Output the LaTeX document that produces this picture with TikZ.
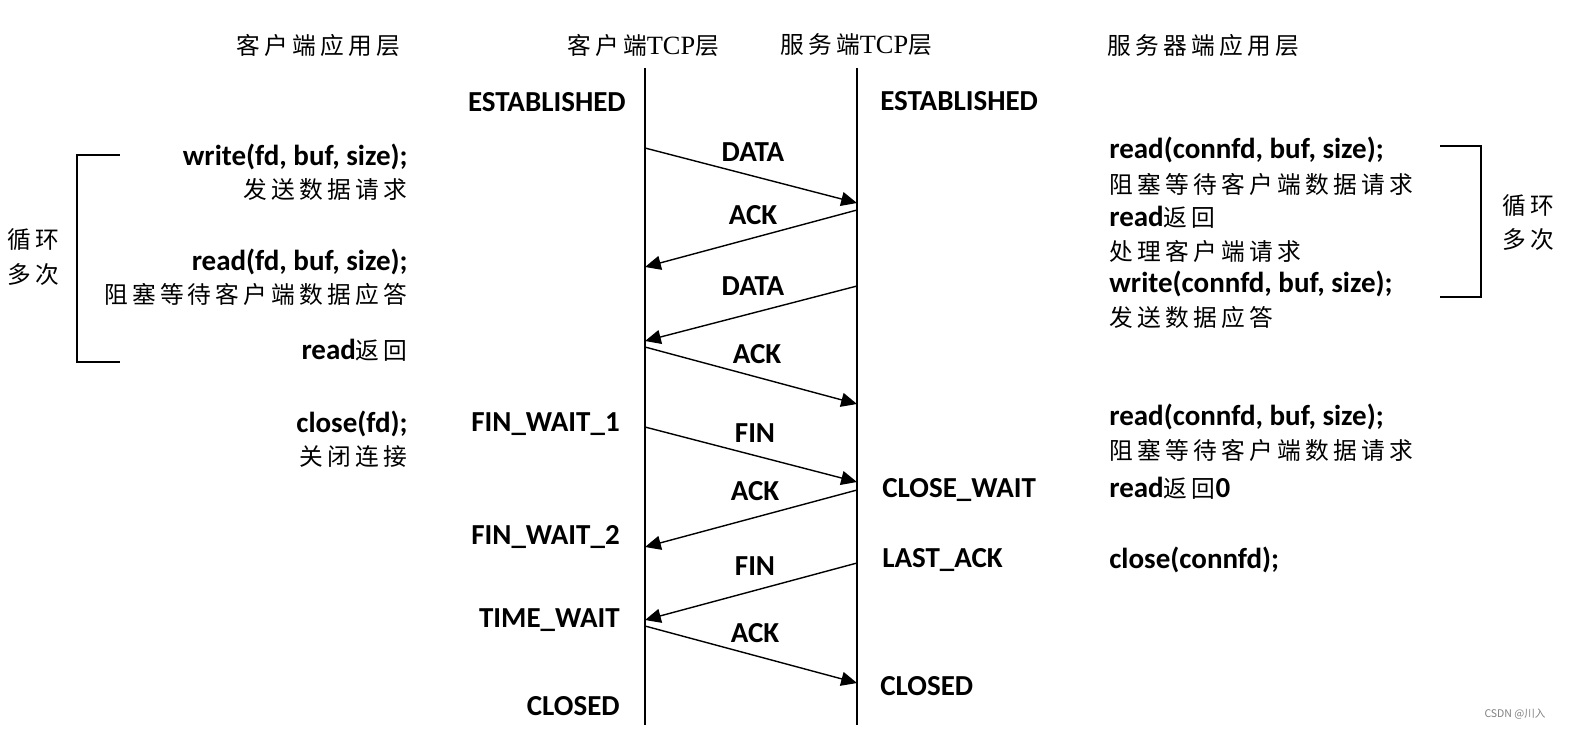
\documentclass[tikz,border=0pt]{standalone}
\usepackage{fontspec}
\setmainfont{Carlito}
\newfontfamily\cjk{Noto Sans CJK SC}
\newfontfamily\serifl{Liberation Serif}
\usetikzlibrary{arrows.meta}
\tikzset{
  lat/.style={font=\bfseries\fontsize{16.5}{18}\selectfont, inner sep=0pt},
  zh/.style={font=\cjk\fontsize{13.5}{16}\selectfont, inner sep=0pt},
  msg/.style={thick, -{Triangle[length=9pt,width=8pt]}},
  life/.style={thick},
  brk/.style={thick}
}
\newcommand{\zhsp}[1]{{\addfontfeature{LetterSpace=18}#1}}
\begin{document}
\begin{tikzpicture}[x=0.02cm,y=-0.02cm]
\useasboundingbox (0,0) rectangle (1572,731);
% headers
\node[zh] (h1) at (318,45) {\zhsp{客户端应用层}};
\node[zh] (h2) at (643,45) {\zhsp{客户端}{\serifl\fontsize{15}{16}\selectfont TCP}\zhsp{层}};
\node[zh] (h3) at (856,45) {\zhsp{服务端}{\serifl\fontsize{15}{16}\selectfont TCP}\zhsp{层}};
\node[zh] (h4) at (1203,45) {\zhsp{服务器端应用层}};
% lifelines
\coordinate (c0) at (645,68); \coordinate (c1) at (645,725);
\coordinate (s0) at (857,68); \coordinate (s1) at (857,725);
\draw[life] (c0) -- (c1);
\draw[life] (s0) -- (s1);
% messages
\foreach \i/\ya/\yb/\dir/\txt/\lx/\ly in {
  1/148/203/r/DATA/753/152, 2/210/267/l/ACK/753/215,
  3/286/341/l/DATA/753/286, 4/347/404/r/ACK/757/354,
  5/427/482/r/FIN/755/433, 6/490/547/l/ACK/755/491,
  7/563/620/l/FIN/755/566, 8/626/683/r/ACK/755/633}{
  \if r\dir
    \coordinate (m\i a) at (645,\ya); \coordinate (m\i b) at (857,\yb);
  \else
    \coordinate (m\i a) at (857,\ya); \coordinate (m\i b) at (645,\yb);
  \fi
  \draw[msg] (m\i a) -- (m\i b);
  \node[lat] (ml\i) at (\lx,\ly) {\txt};
}
% client states
\node[lat, anchor=east] (cs1) at (626,102) {ESTABLISHED};
\node[lat, anchor=east] (cs2) at (620,424) {FIN\_WAIT\_1};
\node[lat, anchor=east] (cs3) at (620,537) {FIN\_WAIT\_2};
\node[lat, anchor=east] (cs4) at (620,620) {TIME\_WAIT};
\node[lat, anchor=east] (cs5) at (620,706) {CLOSED};
% server states
\node[lat, anchor=west] (ss1) at (880,101) {ESTABLISHED};
\node[lat, anchor=west] (ss2) at (882,490) {CLOSE\_WAIT};
\node[lat, anchor=west] (ss3) at (882,560) {LAST\_ACK};
\node[lat, anchor=west] (ss4) at (880,686) {CLOSED};
% client app
\node[lat, anchor=east] (ca1) at (408,157) {write(fd, buf, size);};
\node[zh, anchor=east] (ca2) at (408,189) {\zhsp{发送数据请求}};
\node[lat, anchor=east] (ca3) at (408,262) {read(fd, buf, size);};
\node[zh, anchor=east] (ca4) at (408,294) {\zhsp{阻塞等待客户端数据应答}};
\node[lat, anchor=east] (ca5) at (408,350) {read\normalfont\cjk\fontsize{13.5}{16}\selectfont\zhsp{返回}};
\node[lat, anchor=east] (ca6) at (408,424) {close(fd);};
\node[zh, anchor=east] (ca7) at (408,456) {\zhsp{关闭连接}};
\coordinate (lb0) at (120,155); \coordinate (lb1) at (77,155);
\coordinate (lb2) at (77,362); \coordinate (lb3) at (120,362);
\draw[brk] (lb0) -- (lb1) -- (lb2) -- (lb3);
\node[zh] (lp1) at (33,240) {\zhsp{循环}};
\node[zh] (lp2) at (33,275) {\zhsp{多次}};
% server app
\node[lat, anchor=west] (sa1) at (1109,150) {read(connfd, buf, size);};
\node[zh, anchor=west] (sa2) at (1109,184) {\zhsp{阻塞等待客户端数据请求}};
\node[lat, anchor=west] (sa3) at (1109,217) {read\normalfont\cjk\fontsize{13.5}{16}\selectfont\zhsp{返回}};
\node[zh, anchor=west] (sa4) at (1109,251) {\zhsp{处理客户端请求}};
\node[lat, anchor=west] (sa5) at (1109,284) {write(connfd, buf, size);};
\node[zh, anchor=west] (sa6) at (1109,317) {\zhsp{发送数据应答}};
\node[lat, anchor=west] (sa7) at (1109,417) {read(connfd, buf, size);};
\node[zh, anchor=west] (sa8) at (1109,450) {\zhsp{阻塞等待客户端数据请求}};
\node[lat, anchor=west] (sa9) at (1109,488) {read{\normalfont\cjk\fontsize{13.5}{16}\selectfont\zhsp{返回}}0};
\node[lat, anchor=west] (sa10) at (1109,560) {close(connfd);};
\coordinate (rb0) at (1440,146); \coordinate (rb1) at (1481,146);
\coordinate (rb2) at (1481,297); \coordinate (rb3) at (1440,297);
\draw[brk] (rb0) -- (rb1) -- (rb2) -- (rb3);
\node[zh] (rp1) at (1528,206) {\zhsp{循环}};
\node[zh] (rp2) at (1528,240) {\zhsp{多次}};
% watermark
\node[font=\cjk\fontsize{6}{7}\selectfont, text=gray, inner sep=0pt] (wm) at (1515,714) {CSDN @川入};
\end{tikzpicture}
\end{document}
